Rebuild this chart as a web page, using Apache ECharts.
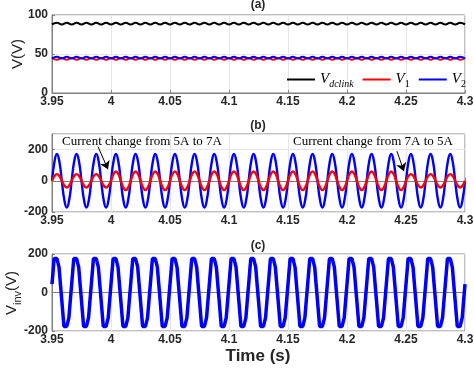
<!DOCTYPE html>
<html><head><meta charset="utf-8">
<script src="https://cdn.jsdelivr.net/npm/echarts@6/dist/echarts.min.js"></script>
<style>html,body{margin:0;padding:0;background:#fff}#c{width:474px;height:371px}</style>
</head><body><div id="c"></div>
<script>
// ---- time axis ----
const timeMin = 3.95, timeMax = 4.3, timeInterval = 0.05;
// sampling steps of the read-off values
const stepA = 1/240;   // panel (a): DC ripple peaks/troughs
const stepB = 1/480;   // panel (b): eighth-period readings of the 60 Hz waves
const stepC = 1/1680;  // panel (c): staircase level slots

// ---- panel (a): DC voltages (V) ----
const vDclink = [
87.9,90.1,87.9,90.1,87.9,90.1,87.9,90.1,87.9,90.1,87.9,90.1,
87.9,90.1,87.9,90.1,87.9,90.1,87.9,90.1,87.9,90.1,87.9,90.1,
87.9,90.1,87.9,90.1,87.9,90.1,87.9,90.1,87.9,90.1,87.9,90.1,
87.9,90.1,87.9,90.1,87.9,90.1,87.9,90.1,87.9,90.1,87.9,90.1,
87.9,90.1,87.9,90.1,87.9,90.1,87.9,90.1,87.9,90.1,87.9,90.1,
87.9,90.1,87.9,90.1,87.9,90.1,87.9,90.1,87.9,90.1,87.9,90.1,
87.9,90.1,87.9,90.1,87.9,90.1,87.9,90.1,87.9,90.1,87.9,90.1,
87.9];
const v1 = [
44.9,42.7,44.9,42.7,44.9,42.7,44.9,42.7,44.9,42.7,44.9,42.7,
44.9,42.7,44.9,42.7,44.9,42.7,44.9,42.7,44.9,42.7,44.9,42.7,
44.9,42.7,44.9,42.7,44.9,42.7,44.9,42.7,44.9,42.7,44.9,42.7,
44.9,42.7,44.9,42.7,44.9,42.7,44.9,42.7,44.9,42.7,44.9,42.7,
44.9,42.7,44.9,42.7,44.9,42.7,44.9,42.7,44.9,42.7,44.9,42.7,
44.9,42.7,44.9,42.7,44.9,42.7,44.9,42.7,44.9,42.7,44.9,42.7,
44.9,42.7,44.9,42.7,44.9,42.7,44.9,42.7,44.9,42.7,44.9,42.7,
44.9];
const v2 = [
44.3,46.5,44.3,46.5,44.3,46.5,44.3,46.5,44.3,46.5,44.3,46.5,
44.3,46.5,44.3,46.5,44.3,46.5,44.3,46.5,44.3,46.5,44.3,46.5,
44.3,46.5,44.3,46.5,44.3,46.5,44.3,46.5,44.3,46.5,44.3,46.5,
44.3,46.5,44.3,46.5,44.3,46.5,44.3,46.5,44.3,46.5,44.3,46.5,
44.3,46.5,44.3,46.5,44.3,46.5,44.3,46.5,44.3,46.5,44.3,46.5,
44.3,46.5,44.3,46.5,44.3,46.5,44.3,46.5,44.3,46.5,44.3,46.5,
44.3,46.5,44.3,46.5,44.3,46.5,44.3,46.5,44.3,46.5,44.3,46.5,
44.3];

// ---- panel (b): AC waves ----
const waveBlue = [
0,122,172,122,0,-122,-172,-122, 0,122,172,122,0,-122,-172,-122, 0,122,172,122,0,-122,-172,-122,
0,122,172,122,0,-122,-172,-122, 0,122,172,122,0,-122,-172,-122, 0,122,172,122,0,-122,-172,-122,
0,122,172,122,0,-122,-172,-122, 0,122,172,122,0,-122,-172,-122, 0,122,172,122,0,-122,-172,-122,
0,122,172,122,0,-122,-172,-122, 0,122,172,122,0,-122,-172,-122, 0,122,172,122,0,-122,-172,-122,
0,122,172,122,0,-122,-172,-122, 0,122,172,122,0,-122,-172,-122, 0,122,172,122,0,-122,-172,-122,
0,122,172,122,0,-122,-172,-122, 0,122,172,122,0,-122,-172,-122, 0,122,172,122,0,-122,-172,-122,
0,122,172,122,0,-122,-172,-122, 0,122,172,122,0,-122,-172,-122, 0,122,172,122,0,-122,-172,-122,
0];
const waveRed = [
0,30,43,30,0,-30,-43,-30, 0,30,43,30,0,-30,-43,-30, 0,30,43,30,0,-30,-43,-30,
0,42,60,42,0,-42,-60,-42, 0,42,60,42,0,-42,-60,-42, 0,42,60,42,0,-42,-60,-42,
0,42,60,42,0,-42,-60,-42, 0,42,60,42,0,-42,-60,-42, 0,42,60,42,0,-42,-60,-42,
0,42,60,42,0,-42,-60,-42, 0,42,60,42,0,-42,-60,-42, 0,42,60,42,0,-42,-60,-42,
0,42,60,42,0,-42,-60,-42, 0,42,60,42,0,-42,-60,-42, 0,42,60,42,0,-42,-60,-42,
0,42,60,42,0,-42,-60,-42, 0,42,60,42,0,-42,-60,-42, 0,42,60,42,0,-42,-60,-42,
0,30,43,30,0,-30,-43,-30, 0,30,43,30,0,-30,-43,-30, 0,30,43,30,0,-30,-43,-30,
0];

// ---- panel (c): inverter staircase voltage ----
const vInv = [
44,88,132,176,176,176,176,176,176,176,132,88,44,0,-44,-88,-132,-176,-176,-176,-176,-176,-176,-176,-132,-88,-44,0,
44,88,132,176,176,176,176,176,176,176,132,88,44,0,-44,-88,-132,-176,-176,-176,-176,-176,-176,-176,-132,-88,-44,0,
44,88,132,176,176,176,176,176,176,176,132,88,44,0,-44,-88,-132,-176,-176,-176,-176,-176,-176,-176,-132,-88,-44,0,
44,88,132,176,176,176,176,176,176,176,132,88,44,0,-44,-88,-132,-176,-176,-176,-176,-176,-176,-176,-132,-88,-44,0,
44,88,132,176,176,176,176,176,176,176,132,88,44,0,-44,-88,-132,-176,-176,-176,-176,-176,-176,-176,-132,-88,-44,0,
44,88,132,176,176,176,176,176,176,176,132,88,44,0,-44,-88,-132,-176,-176,-176,-176,-176,-176,-176,-132,-88,-44,0,
44,88,132,176,176,176,176,176,176,176,132,88,44,0,-44,-88,-132,-176,-176,-176,-176,-176,-176,-176,-132,-88,-44,0,
44,88,132,176,176,176,176,176,176,176,132,88,44,0,-44,-88,-132,-176,-176,-176,-176,-176,-176,-176,-132,-88,-44,0,
44,88,132,176,176,176,176,176,176,176,132,88,44,0,-44,-88,-132,-176,-176,-176,-176,-176,-176,-176,-132,-88,-44,0,
44,88,132,176,176,176,176,176,176,176,132,88,44,0,-44,-88,-132,-176,-176,-176,-176,-176,-176,-176,-132,-88,-44,0,
44,88,132,176,176,176,176,176,176,176,132,88,44,0,-44,-88,-132,-176,-176,-176,-176,-176,-176,-176,-132,-88,-44,0,
44,88,132,176,176,176,176,176,176,176,132,88,44,0,-44,-88,-132,-176,-176,-176,-176,-176,-176,-176,-132,-88,-44,0,
44,88,132,176,176,176,176,176,176,176,132,88,44,0,-44,-88,-132,-176,-176,-176,-176,-176,-176,-176,-132,-88,-44,0,
44,88,132,176,176,176,176,176,176,176,132,88,44,0,-44,-88,-132,-176,-176,-176,-176,-176,-176,-176,-132,-88,-44,0,
44,88,132,176,176,176,176,176,176,176,132,88,44,0,-44,-88,-132,-176,-176,-176,-176,-176,-176,-176,-132,-88,-44,0,
44,88,132,176,176,176,176,176,176,176,132,88,44,0,-44,-88,-132,-176,-176,-176,-176,-176,-176,-176,-132,-88,-44,0,
44,88,132,176,176,176,176,176,176,176,132,88,44,0,-44,-88,-132,-176,-176,-176,-176,-176,-176,-176,-132,-88,-44,0,
44,88,132,176,176,176,176,176,176,176,132,88,44,0,-44,-88,-132,-176,-176,-176,-176,-176,-176,-176,-132,-88,-44,0,
44,88,132,176,176,176,176,176,176,176,132,88,44,0,-44,-88,-132,-176,-176,-176,-176,-176,-176,-176,-132,-88,-44,0,
44,88,132,176,176,176,176,176,176,176,132,88,44,0,-44,-88,-132,-176,-176,-176,-176,-176,-176,-176,-132,-88,-44,0,
44,88,132,176,176,176,176,176,176,176,132,88,44,0,-44,-88,-132,-176,-176,-176,-176,-176,-176,-176,-132,-88,-44,0,
44];

// ---- axis ranges / ticks ----
const yRanges = [[0,100,50],[-200,300,200],[-200,200,200]];
// ---- annotations (data coords of panel b) ----
const notes = [
  {text:'Current change from 5A to 7A', at:[3.9585, 252], from:[3.989, 219], to:[3.9974, 74]},
  {text:'Current change from 7A to 5A', at:[4.1542, 252], from:[4.2423, 190], to:[4.2482, 62]}
];

const toXY = (vals, dt) => vals.map((v,i) => [timeMin + i*dt, v]);
const fmtT = v => String(+(+v).toFixed(2));

const sans = 'Liberation Sans';
const serif = 'Liberation Serif';
const frame = '#808080';
const gridTops = [15, 134, 254], gridH = [78, 78, 77];

const grids = gridTops.map((t,i) => ({left:52, right:9, top:t, height:gridH[i], show:true,
  borderColor:frame, borderWidth:1, containLabel:false, outerBoundsMode:'none'}));
const xAxes = [0,1,2].map(i => ({type:'value', gridIndex:i, min:timeMin, max:timeMax, interval:timeInterval,
  axisLine:{show:true, lineStyle:{color:frame}}, axisTick:{show:true, inside:true, length:3, lineStyle:{color:frame}},
  axisLabel:{margin:3, fontSize:12, fontWeight:'bold', color:'#262626', fontFamily:sans, formatter:fmtT},
  splitLine:{show:true, lineStyle:{color:'#e6e6e6', width:1}}}));
const yAxes = yRanges.map((r,i) => ({type:'value', gridIndex:i, min:r[0], max:r[1], interval:r[2],
  axisLine:{show:true, lineStyle:{color:frame}}, axisTick:{show:true, inside:true, length:3, lineStyle:{color:frame}},
  axisLabel:{margin:4, fontSize:12, fontWeight:'bold', color:'#262626', fontFamily:sans, showMaxLabel: i!==1},
  splitLine:{show:true, lineStyle:{color:'#e6e6e6', width:1}}}));

const lineS = (name, xi, data, color, w, extra) => Object.assign({name, type:'line', xAxisIndex:xi, yAxisIndex:xi,
  data, symbol:'none', symbolSize:0, showSymbol:false, lineStyle:{color, width:w}, itemStyle:{color}, silent:true}, extra||{});

const series = [
  lineS('Vdclink', 0, toXY(vDclink, stepA), '#000000', 2, {smooth:true}),
  lineS('V1', 0, toXY(v1, stepA), '#ff0000', 2, {smooth:true}),
  lineS('V2', 0, toXY(v2, stepA), '#0000ff', 2, {smooth:true}),
  lineS('iB', 1, toXY(waveBlue, stepB), '#0000ff', 2.4, {smooth:true}),
  lineS('iR', 1, toXY(waveRed, stepB), '#ff0000', 2.4, {smooth:true,
    markLine:{silent:true, symbol:['none','arrow'], symbolSize:8, animation:false,
      lineStyle:{color:'#000', width:1, type:'solid'}, label:{show:false}, emphasis:{disabled:true},
      data: notes.map(n => [{coord:n.from}, {coord:n.to}])}}),
  lineS('Vinv', 2, toXY(vInv, stepC), '#0000ff', 3.5, {step:'end'})
];

const rich = {
  i:{fontFamily:serif, fontStyle:'italic', fontSize:15, color:'#000', lineHeight:20, verticalAlign:'middle'},
  s:{fontFamily:serif, fontStyle:'italic', fontSize:10, color:'#000', verticalAlign:'bottom'},
  n:{fontFamily:serif, fontSize:10, color:'#000', verticalAlign:'bottom'}
};
const legendNames = {Vdclink:'{i|V}{s|dclink}', V1:'{i|V}{n|1}', V2:'{i|V}{n|2}'};

const chart = echarts.init(document.getElementById('c'), null, {renderer:'canvas'});
chart.setOption({
  animation:false, backgroundColor:'#fff',
  grid:grids, xAxis:xAxes, yAxis:yAxes, series,
  legend:{data:['Vdclink','V1','V2'].map(n => ({name:n, icon:'rect'})), left:287, top:72, width:190,
    orient:'horizontal', itemWidth:28, itemHeight:2, itemGap:9, padding:0,
    formatter: n => legendNames[n], textStyle:{rich}, selectedMode:false},
});

const txt = (x, y, text, font, extra) => Object.assign({type:'text', x, y, silent:true,
  style:{text, font, fill:'#262626', textAlign:'center', align:'center', textVerticalAlign:'middle', verticalAlign:'middle'}}, extra||{});
const graphics = [
  txt(258, 5, '(a)', 'bold 12px "Liberation Sans"'),
  txt(258, 126, '(b)', 'bold 12px "Liberation Sans"'),
  txt(258, 246, '(c)', 'bold 12px "Liberation Sans"'),
  txt(258, 356, 'Time (s)', 'bold 17px "Liberation Sans"'),
  txt(18, 54, 'V(V)', '15px "Liberation Sans"', {rotation:Math.PI/2}),
  {type:'text', x:12, y:293, rotation:Math.PI/2, silent:true,
    style:{text:'{v|V}{s|inv}{v|(V)}', textAlign:'center', align:'center', textVerticalAlign:'middle', verticalAlign:'middle',
      rich:{v:{fontFamily:sans, fontSize:15, fill:'#262626', color:'#262626', lineHeight:22, verticalAlign:'middle'},
            s:{fontFamily:sans, fontSize:11, fill:'#262626', color:'#262626', verticalAlign:'bottom'}}}}
];
notes.forEach(n => {
  const p = chart.convertToPixel({gridIndex:1}, n.at);
  graphics.push({type:'text', x:p[0], y:p[1], silent:true,
    style:{text:n.text, font:'13px "Liberation Serif"', fill:'#000', textAlign:'left', align:'left',
      textVerticalAlign:'middle', verticalAlign:'middle'}});
});
chart.setOption({graphic:graphics});
</script></body></html>
